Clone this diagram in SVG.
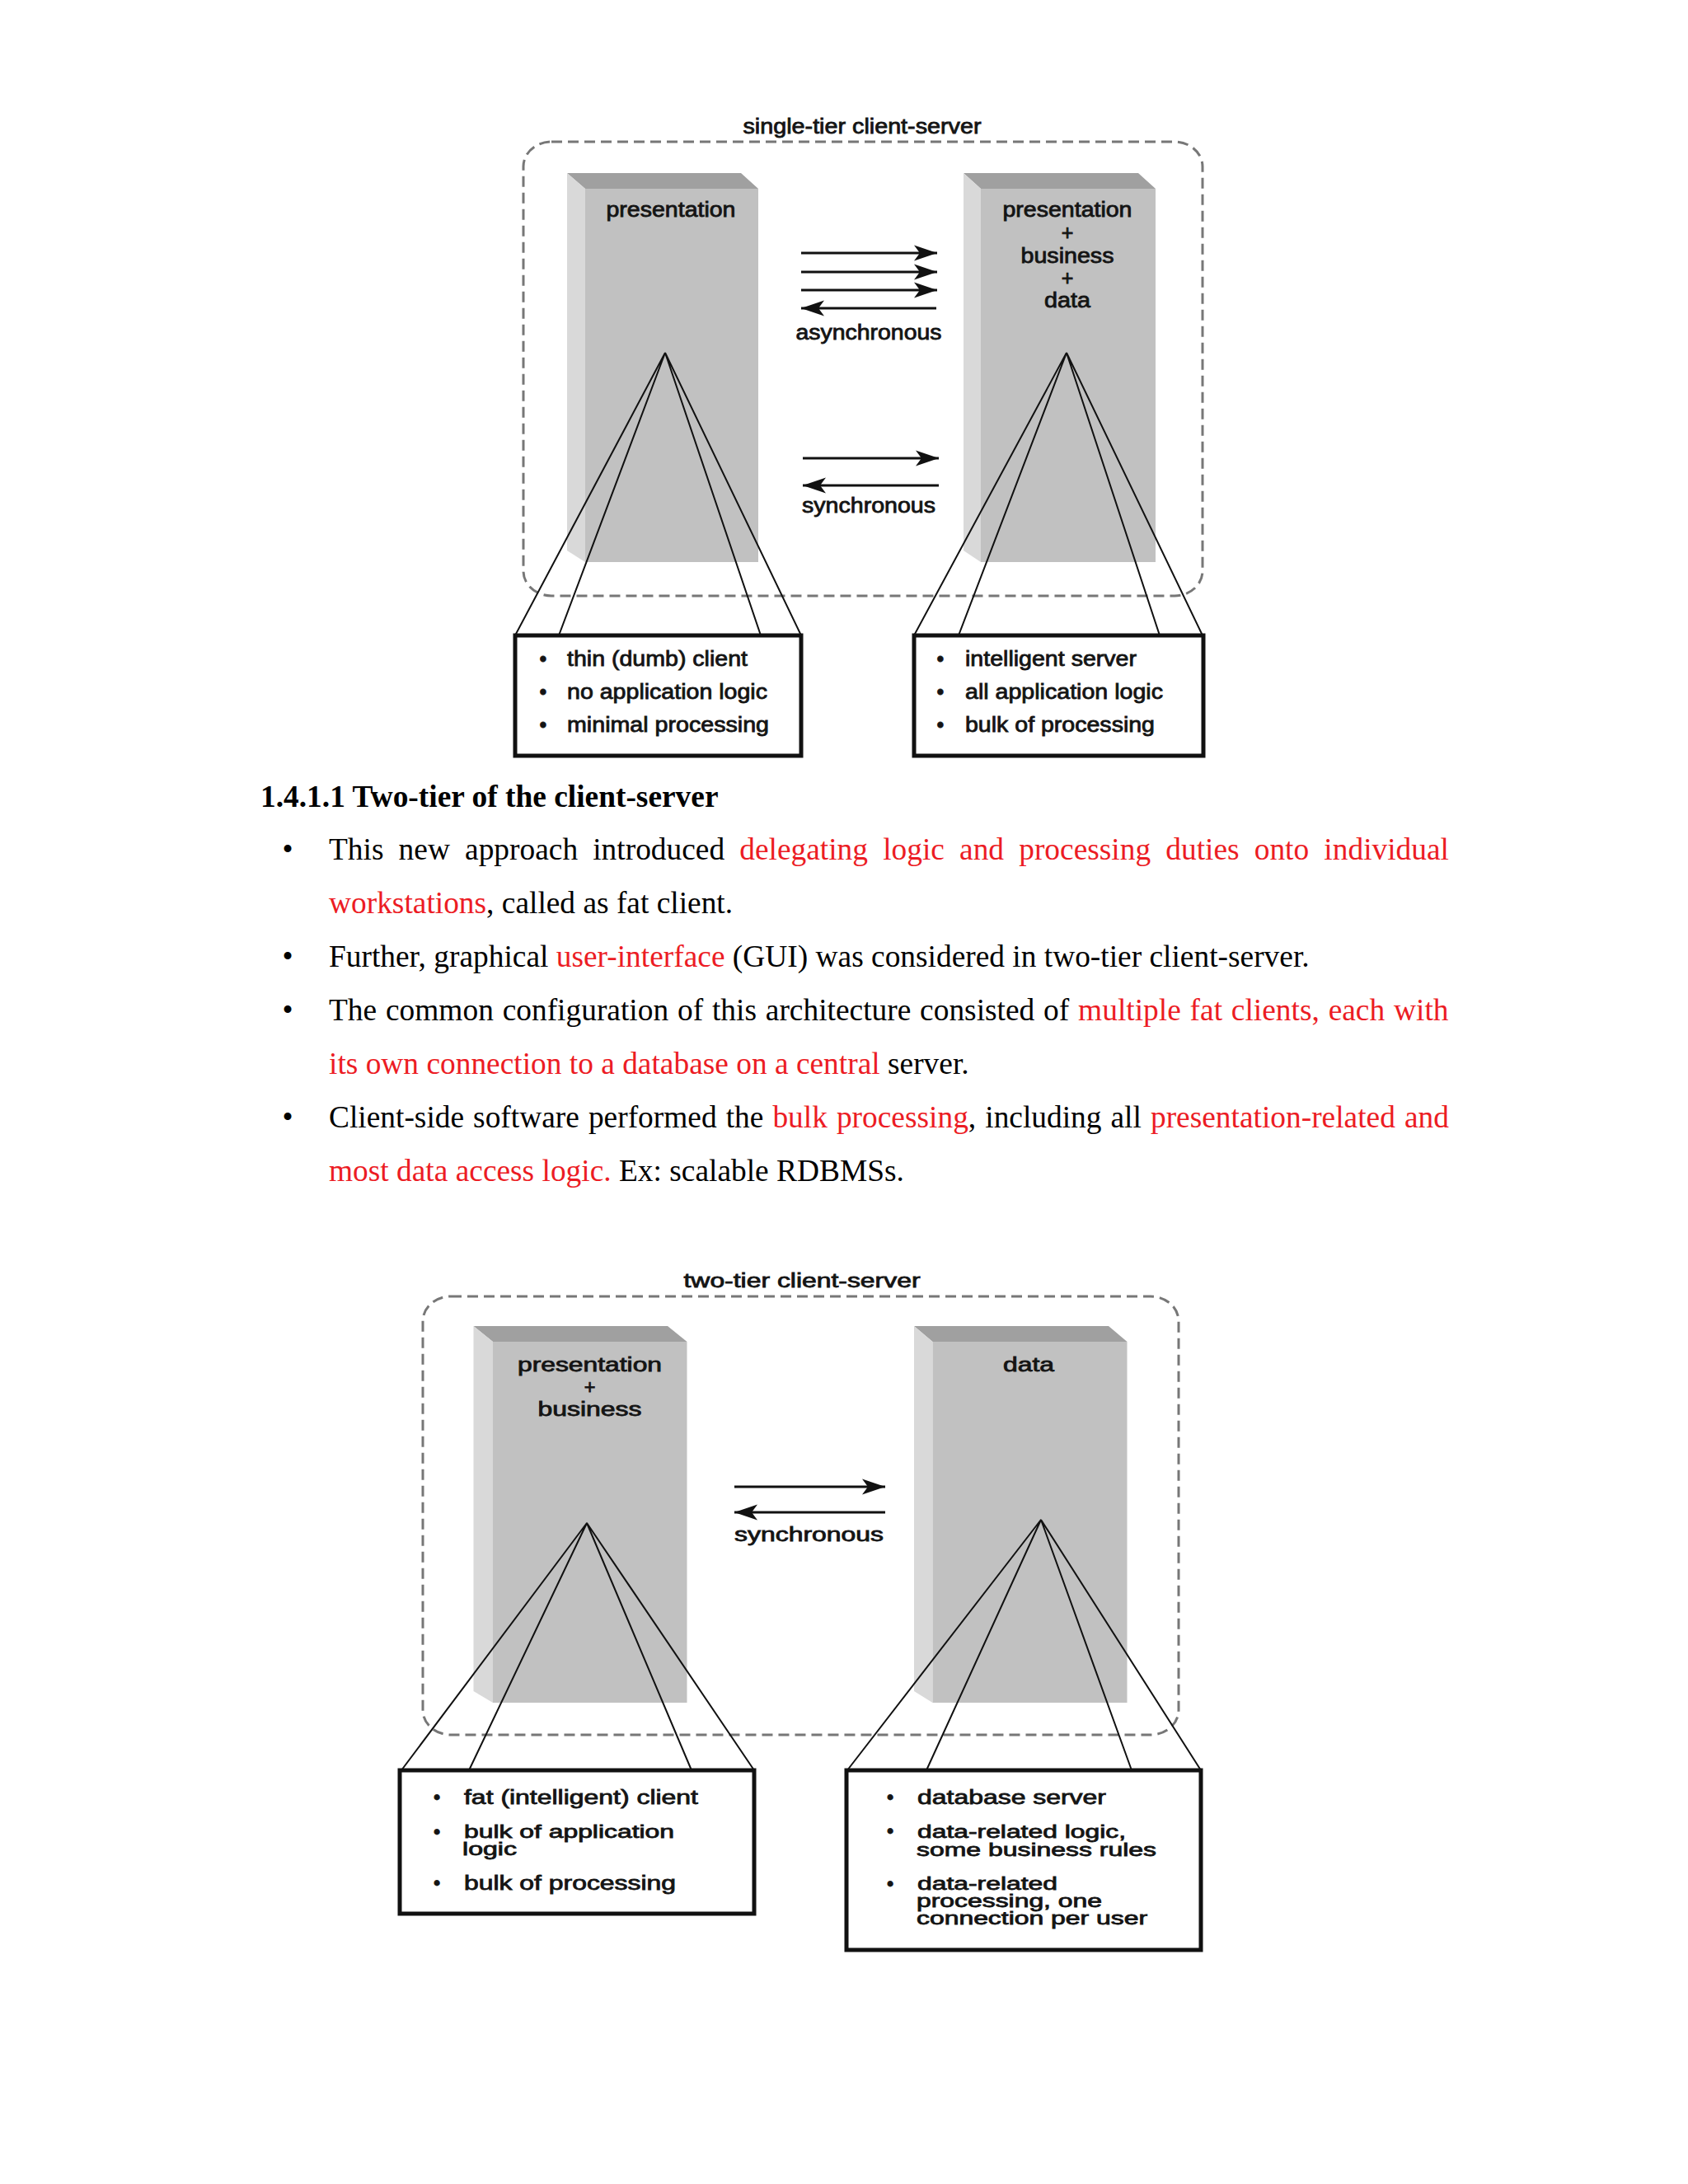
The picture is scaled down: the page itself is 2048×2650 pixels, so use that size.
<svg xmlns="http://www.w3.org/2000/svg" width="2048" height="2650" viewBox="0 0 2048 2650">
<defs>
<marker id="ah" viewBox="-30 -11 32 22" refX="0" refY="0" markerWidth="32" markerHeight="22" markerUnits="userSpaceOnUse" orient="auto">
<path d="M0,0 L-28,-9.5 L-21,0 L-28,9.5 Z" fill="#111"/>
</marker>
</defs>
<style>
.lbl{font-family:"Liberation Sans",Arial,Helvetica,sans-serif;fill:#141414;stroke:#141414;stroke-width:0.8}
.t1{font-size:25px}
.t2{font-size:23.5px}
.t2w{font-size:22px}
.mid{text-anchor:middle}
.dash{fill:none;stroke:#777;stroke-width:3;stroke-dasharray:13 7}
.topf{fill:#a0a0a0}
.side{fill:#d9d9d9}
.front{fill:#c1c1c1}
.fan{stroke:#111;stroke-width:2;fill:none}
.box{fill:#fff;stroke:#111;stroke-width:5}
.arr{stroke:#111;stroke-width:3;marker-end:url(#ah)}
.body{font-family:"Liberation Serif","Times New Roman",serif;font-size:37.4px;fill:#000}
.red{fill:#ec1c24}
</style>
<rect x="0" y="0" width="2048" height="2650" fill="#fff"/>

<!-- ===== single-tier diagram ===== -->
<g id="single-tier">
<rect class="dash" x="635" y="172" width="824" height="551" rx="34" ry="30"/>
<text class="lbl t1 mid" x="1046" y="162" textLength="289" lengthAdjust="spacingAndGlyphs">single-tier client-server</text>
</g>

<g id="st-client-column">
<polygon class="topf" points="688,210 899,210 920,229 710,229"/>
<polygon class="side" points="688,210 710,229 710,682 688,668"/>
<rect class="front" x="710" y="229" width="210" height="453"/>
<text class="lbl t1 mid" x="814" y="263" textLength="157" lengthAdjust="spacingAndGlyphs">presentation</text>
</g>

<g id="st-server-column">
<polygon class="topf" points="1169,210 1381,210 1402,229 1190,229"/>
<polygon class="side" points="1169,210 1190,229 1190,682 1169,668"/>
<rect class="front" x="1190" y="229" width="212" height="453"/>
<text class="lbl t1 mid" x="1295" y="263" textLength="157" lengthAdjust="spacingAndGlyphs">presentation</text>
<text class="lbl t1 mid" x="1295" y="291">+</text>
<text class="lbl t1 mid" x="1295" y="318.5" textLength="113" lengthAdjust="spacingAndGlyphs">business</text>
<text class="lbl t1 mid" x="1295" y="346">+</text>
<text class="lbl t1 mid" x="1295" y="373" textLength="56" lengthAdjust="spacingAndGlyphs">data</text>
</g>

<g id="st-connectors">
<line class="arr" x1="972" y1="307" x2="1137" y2="307"/>
<line class="arr" x1="972" y1="330" x2="1137" y2="330"/>
<line class="arr" x1="972" y1="352" x2="1137" y2="352"/>
<line class="arr" x1="1136" y1="374" x2="972" y2="374"/>
<line class="arr" x1="974" y1="556" x2="1139" y2="556"/>
<line class="arr" x1="1139" y1="589" x2="974" y2="589"/>
<polyline class="fan" points="625,771 807,428 678,771"/>
<polyline class="fan" points="923,771 807,428 972,771"/>
<polyline class="fan" points="1109,771 1294,428 1163,771"/>
<polyline class="fan" points="1407,771 1294,428 1459,771"/>
<text class="lbl t1 mid" x="1054" y="412" textLength="177" lengthAdjust="spacingAndGlyphs">asynchronous</text>
<text class="lbl t1 mid" x="1054" y="622" textLength="162" lengthAdjust="spacingAndGlyphs">synchronous</text>
</g>

<g id="st-client-box">
<rect class="box" x="625" y="771" width="347" height="146"/>
<text class="lbl t1 mid" x="659" y="808.3">•</text>
<text class="lbl t1 mid" x="659" y="848.3">•</text>
<text class="lbl t1 mid" x="659" y="888.3">•</text>
<text class="lbl t1" x="688" y="808.3" textLength="219" lengthAdjust="spacingAndGlyphs">thin (dumb) client</text>
<text class="lbl t1" x="688" y="848.3" textLength="243" lengthAdjust="spacingAndGlyphs">no application logic</text>
<text class="lbl t1" x="688" y="888.3" textLength="245" lengthAdjust="spacingAndGlyphs">minimal processing</text>
</g>

<g id="st-server-box">
<rect class="box" x="1109" y="771" width="351" height="146"/>
<text class="lbl t1 mid" x="1141" y="808.3">•</text>
<text class="lbl t1 mid" x="1141" y="848.3">•</text>
<text class="lbl t1 mid" x="1141" y="888.3">•</text>
<text class="lbl t1" x="1171" y="808.3" textLength="208" lengthAdjust="spacingAndGlyphs">intelligent server</text>
<text class="lbl t1" x="1171" y="848.3" textLength="240" lengthAdjust="spacingAndGlyphs">all application logic</text>
<text class="lbl t1" x="1171" y="888.3" textLength="230" lengthAdjust="spacingAndGlyphs">bulk of processing</text>
</g>

<!-- ===== body text ===== -->
<g id="body-text">
<text class="body" x="316" y="979" font-weight="bold">1.4.1.1 Two-tier of the client-server</text>
<text class="body mid" x="349" y="1043">•</text>
<text class="body" x="399" y="1043" word-spacing="8.8">This new approach introduced <tspan class="red">delegating logic and processing duties onto individual</tspan></text>
<text class="body" x="399" y="1108"><tspan class="red">workstations</tspan>, called as fat client.</text>
<text class="body mid" x="349" y="1173">•</text>
<text class="body" x="399" y="1173">Further, graphical <tspan class="red">user-interface</tspan> (GUI) was considered in two-tier client-server.</text>
<text class="body mid" x="349" y="1238">•</text>
<text class="body" x="399" y="1238" word-spacing="1.5">The common configuration of this architecture consisted of <tspan class="red">multiple fat clients, each with</tspan></text>
<text class="body" x="399" y="1303"><tspan class="red">its own connection to a database on a central</tspan> server.</text>
<text class="body mid" x="349" y="1368">•</text>
<text class="body" x="399" y="1368" word-spacing="1.7">Client-side software performed the <tspan class="red">bulk processing</tspan>, including all <tspan class="red">presentation-related and</tspan></text>
<text class="body" x="399" y="1433"><tspan class="red">most data access logic.</tspan> Ex: scalable RDBMSs.</text>
</g>

<!-- ===== two-tier diagram ===== -->
<g id="two-tier">
<rect class="dash" x="513" y="1573" width="917" height="532" rx="34" ry="30"/>
<text class="lbl t2 mid" x="973" y="1562" textLength="287" lengthAdjust="spacingAndGlyphs">two-tier client-server</text>
</g>

<g id="tt-client-column">
<polygon class="topf" points="574.5,1609 810,1609 833.5,1628 598,1628"/>
<polygon class="side" points="574.5,1609 598,1628 598,2066 574.5,2052"/>
<rect class="front" x="598" y="1628" width="235.5" height="438"/>
<text class="lbl t2 mid" x="715.5" y="1664" textLength="175" lengthAdjust="spacingAndGlyphs">presentation</text>
<text class="lbl t2 mid" x="715.5" y="1691">+</text>
<text class="lbl t2 mid" x="715.5" y="1718" textLength="126" lengthAdjust="spacingAndGlyphs">business</text>
</g>

<g id="tt-server-column">
<polygon class="topf" points="1109,1609 1345,1609 1367.5,1628 1131.5,1628"/>
<polygon class="side" points="1109,1609 1131.5,1628 1131.5,2066 1109,2052"/>
<rect class="front" x="1131.5" y="1628" width="236" height="438"/>
<text class="lbl t2 mid" x="1248" y="1664" textLength="62" lengthAdjust="spacingAndGlyphs">data</text>
</g>

<g id="tt-connectors">
<line class="arr" x1="891" y1="1804" x2="1074" y2="1804"/>
<line class="arr" x1="1074" y1="1835" x2="891" y2="1835"/>
<polyline class="fan" points="487,2148 712,1848 569,2148"/>
<polyline class="fan" points="839,2148 712,1848 915,2148"/>
<polyline class="fan" points="1028,2148 1263,1844 1124,2148"/>
<polyline class="fan" points="1373,2148 1263,1844 1457,2148"/>
<text class="lbl t2 mid" x="981.5" y="1870" textLength="181" lengthAdjust="spacingAndGlyphs">synchronous</text>
</g>

<g id="tt-client-box">
<rect class="box" x="485" y="2148" width="430" height="174"/>
<text class="lbl t2 mid" x="530" y="2189">•</text>
<text class="lbl t2 mid" x="530" y="2230.7">•</text>
<text class="lbl t2 mid" x="530" y="2293">•</text>
<text class="lbl t2" x="563" y="2189" textLength="284" lengthAdjust="spacingAndGlyphs">fat (intelligent) client</text>
<text class="lbl t2w" x="563" y="2230" textLength="255" lengthAdjust="spacingAndGlyphs">bulk of application</text>
<text class="lbl t2w" x="561" y="2251" textLength="66" lengthAdjust="spacingAndGlyphs">logic</text>
<text class="lbl t2" x="563" y="2293" textLength="257" lengthAdjust="spacingAndGlyphs">bulk of processing</text>
</g>

<g id="tt-server-box">
<rect class="box" x="1027" y="2148" width="430" height="218"/>
<text class="lbl t2 mid" x="1080" y="2189">•</text>
<text class="lbl t2 mid" x="1080" y="2230">•</text>
<text class="lbl t2 mid" x="1080" y="2294">•</text>
<text class="lbl t2" x="1113" y="2189" textLength="229" lengthAdjust="spacingAndGlyphs">database server</text>
<text class="lbl t2w" x="1113" y="2230" textLength="253" lengthAdjust="spacingAndGlyphs">data-related logic,</text>
<text class="lbl t2w" x="1112" y="2252" textLength="291" lengthAdjust="spacingAndGlyphs">some business rules</text>
<text class="lbl t2w" x="1113" y="2293" textLength="170" lengthAdjust="spacingAndGlyphs">data-related</text>
<text class="lbl t2w" x="1112" y="2313.5" textLength="225" lengthAdjust="spacingAndGlyphs">processing, one</text>
<text class="lbl t2w" x="1112" y="2334.5" textLength="280" lengthAdjust="spacingAndGlyphs">connection per user</text>
</g>
</svg>
